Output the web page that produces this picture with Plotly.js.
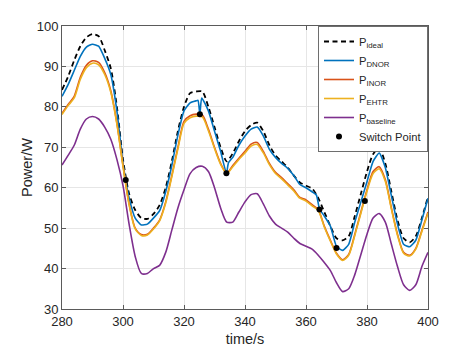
<!DOCTYPE html>
<html>
<head>
<meta charset="utf-8">
<script src="https://cdn.plot.ly/plotly-3.0.1.min.js"></script>
<style>
html,body{margin:0;padding:0;background:#fff;}
#chart{width:474px;height:352px;}
</style>
</head>
<body>
<div id="chart"></div>
<script>
// Shared time axis (s)
var timeCommon = [280,282,284,286,288,290,292,294,296,298,300,302,304,306,308,310,312,314,316,318,320,322,324,326,328,330,332,334,336,338,340,342,344,346,348,350,352,354,356,358,360,362,364,366,368,370,372,374,376,378,380,382,384,386,388,390,392,394,396,398,400];

var pIdeal = [84.2,87.5,91.5,95.0,97.2,98.0,97.5,94.0,89.5,80.0,67.0,58.5,54.5,52.5,52.3,53.5,55.7,60.0,66.5,74.0,80.0,83.4,83.8,83.8,80.0,75.0,70.0,66.5,68.5,71.5,74.0,75.5,76.1,74.0,70.5,68.0,66.5,65.0,63.0,61.3,60.5,59.8,57.5,54.0,50.5,47.5,47.0,48.0,53.0,58.5,64.0,68.3,69.8,66.0,59.0,52.0,47.5,46.5,48.0,52.5,57.8];

var pInor = [78.4,80.6,82.6,87.3,90.3,91.4,91.0,88.5,84.0,76.0,65.5,56.0,50.0,48.4,48.5,50.0,52.0,56.5,63.0,70.0,76.4,77.8,78.2,78.0,74.5,70.0,66.0,63.6,65.5,67.3,69.0,70.8,71.2,69.0,66.0,63.8,62.5,61.0,59.5,57.6,57.0,55.8,54.6,50.5,47.0,43.8,42.2,43.5,48.5,54.0,59.5,64.0,65.2,62.0,55.0,48.5,44.0,43.3,45.0,49.5,54.0];

var pEhtr = [78.1,80.3,82.2,86.8,89.7,90.8,90.4,88.0,83.6,75.7,65.3,55.8,49.8,48.2,48.3,49.8,51.8,56.2,62.7,69.6,75.9,77.3,77.7,77.5,74.1,69.7,65.8,63.5,65.2,67.0,68.6,70.3,70.7,68.6,65.7,63.5,62.2,60.7,59.2,57.4,56.7,55.5,54.4,50.3,46.8,43.6,42.0,43.3,48.2,53.7,59.1,63.5,64.7,61.6,54.7,48.2,43.8,43.1,44.8,49.2,53.7];

var pBaseline = [65.6,68.0,70.5,74.5,77.0,77.6,77.0,75.0,72.0,67.0,60.5,51.0,43.0,38.8,38.8,40.0,40.8,44.0,49.5,55.0,59.5,63.5,65.0,65.3,64.0,60.0,55.0,51.5,51.5,54.0,56.5,58.3,58.5,56.0,53.0,51.0,50.0,49.0,47.5,46.2,45.5,44.8,43.3,41.5,39.5,36.5,34.3,35.0,38.5,43.5,48.5,52.5,53.6,51.5,46.0,40.5,36.0,34.6,36.0,40.5,44.0];

// DNOR has its own time points (sharp dips at the switch points)
var dnorTime = [280,282,284,286,288,290,292,294,296,298,300,302,304,306,308,310,312,314,316,318,320,322,324,324.6,325.2,325.8,328,330,332,333.9,334.6,336,338,340,342,344,346,348,350,352,354,356,358,360,362,363.4,364.4,366,368,370,372,374,376,378,380,382,384,386,388,390,392,394,396,398,400];
var pDnor = [82.6,85.5,89.0,92.5,94.8,95.5,95.0,92.0,88.0,79.0,66.0,57.5,52.5,50.8,51.0,52.5,54.3,59.0,65.5,73.0,79.0,81.0,81.5,81.6,78.2,82.2,79.0,74.0,69.0,63.6,66.2,67.5,70.5,72.8,74.5,75.0,72.8,69.5,67.5,66.0,64.8,63.0,60.8,60.0,59.0,58.2,54.8,53.0,50.5,45.5,44.5,46.0,51.5,56.5,61.5,66.5,68.6,65.0,58.0,51.0,46.0,45.4,47.0,52.0,57.4];

// Switch points
var switchTime = [300.9,325.2,333.9,364.4,370.0,379.3];
var switchPower = [61.9,78.2,63.6,54.6,45.1,56.7];

var lw = 1.6;
var traces = [
  {x: timeCommon, y: pIdeal, mode:'lines', name:'P<sub>ideal</sub>',
   line:{color:'#000000', width:1.8, dash:'5px,3.5px', shape:'spline', smoothing:0.7}},
  {x: dnorTime, y: pDnor, mode:'lines', name:'P<sub>DNOR</sub>',
   line:{color:'#0072BD', width:lw, shape:'spline', smoothing:0.5}},
  {x: timeCommon, y: pInor, mode:'lines', name:'P<sub>INOR</sub>',
   line:{color:'#D95319', width:lw, shape:'spline', smoothing:0.7}},
  {x: timeCommon, y: pEhtr, mode:'lines', name:'P<sub>EHTR</sub>',
   line:{color:'#EDB120', width:lw, shape:'spline', smoothing:0.7}},
  {x: timeCommon, y: pBaseline, mode:'lines', name:'P<sub>baseline</sub>',
   line:{color:'#7E2F8E', width:lw, shape:'spline', smoothing:0.7}},
  {x: switchTime, y: switchPower, mode:'markers', name:'Switch Point',
   marker:{color:'#000000', size:6, symbol:'circle'}}
];

var axisCommon = {
  showline:true, linecolor:'#5a5a5a', linewidth:1, mirror:'ticks',
  ticks:'inside', ticklen:4, tickcolor:'#5a5a5a',
  showgrid:true, gridcolor:'#e6e6e6', gridwidth:1, zeroline:false,
  tickfont:{family:'Liberation Sans, Arial, sans-serif', size:13, color:'#262626'}
};

var layout = {
  width:474, height:352,
  margin:{l:62, r:46, t:26, b:43},
  paper_bgcolor:'#ffffff', plot_bgcolor:'#ffffff',
  font:{family:'Liberation Sans, Arial, sans-serif', color:'#262626'},
  showlegend:true,
  legend:{x:1, xanchor:'right', y:1, yanchor:'top',
    bgcolor:'#ffffff', bordercolor:'#6e6e6e', borderwidth:1,
    font:{family:'Liberation Sans, Arial, sans-serif', size:11.2, color:'#262626'},
    itemwidth:30, tracegroupgap:0},
  xaxis: Object.assign({}, axisCommon, {
    range:[280,400], tickvals:[280,300,320,340,360,380,400],
    title:{text:'time/s', font:{size:14.5, color:'#262626'}, standoff:6}
  }),
  yaxis: Object.assign({}, axisCommon, {
    range:[30,100], tickvals:[30,40,50,60,70,80,90,100],
    title:{text:'Power/W', font:{size:14.5, color:'#262626'}, standoff:0}
  })
};

Plotly.newPlot('chart', traces, layout, {displayModeBar:false, staticPlot:true});
</script>
</body>
</html>
